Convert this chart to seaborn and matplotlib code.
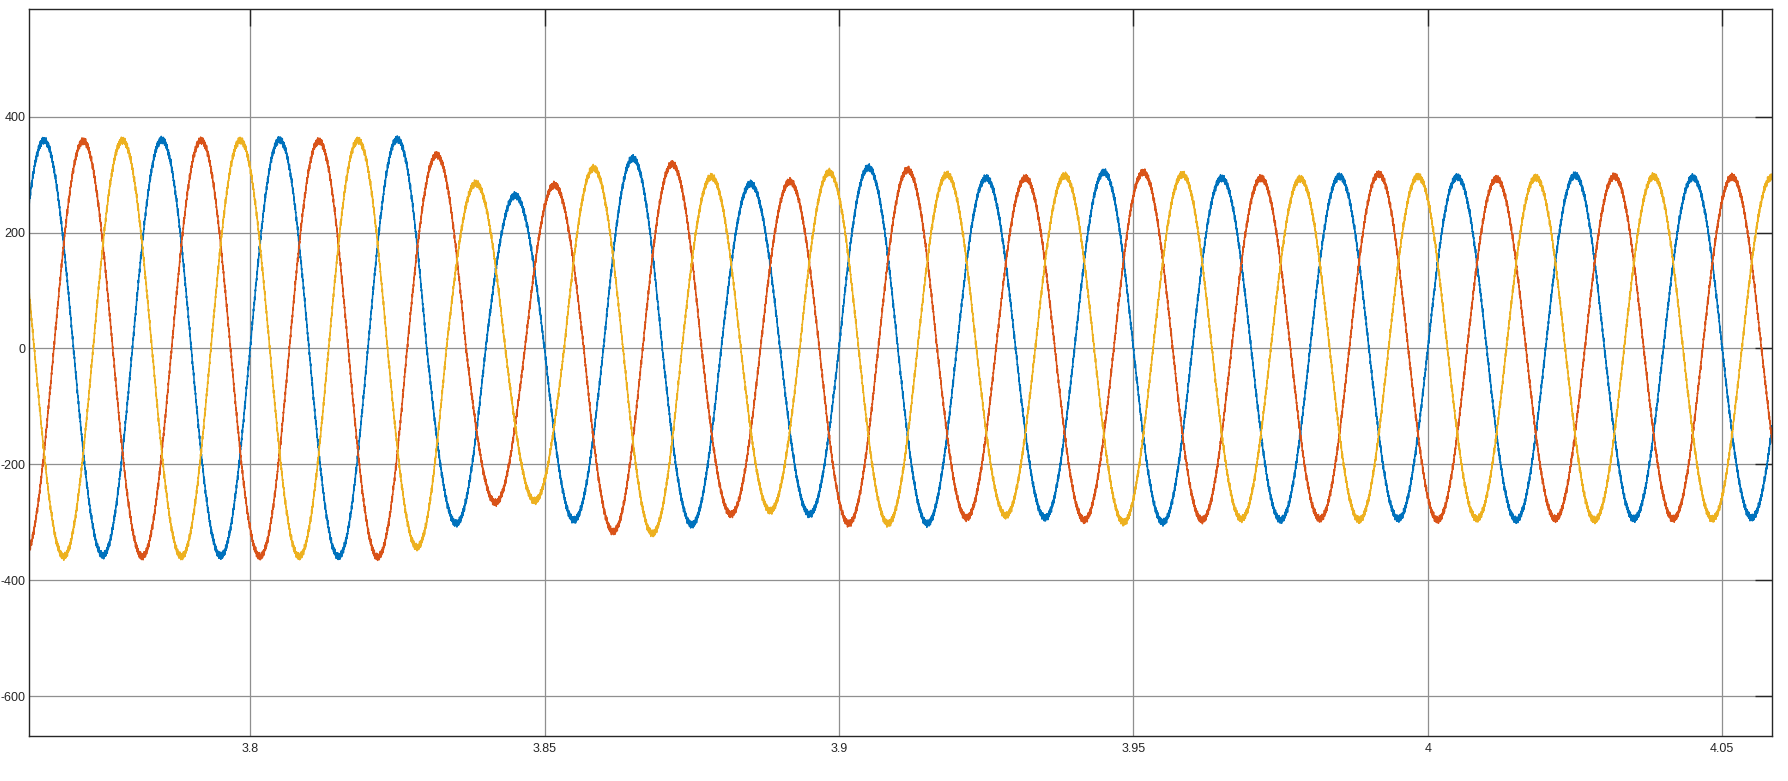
import numpy as np
import pandas as pd
import matplotlib
matplotlib.use("Agg")
import matplotlib.pyplot as plt
import seaborn as sns

# three phase voltages, 50 Hz
freq = 50.0
phase_names = ['Va', 'Vb', 'Vc']
phase_shift = [0, -120, 120]          # deg
phase_colors = ['#0072BD', '#D95319', '#EDB120']

# peak value of every half cycle
# Va half cycles centred at 3.765, 3.775, ..., 4.055
va_peaks = [359, -357, 360, -358, 360, -359, 361, -302, 264, -296,
            328, -304, 284, -286, 312, -302, 294, -292, 304, -300,
            294, -296, 297, -294, 296, -296, 299, -294, 295, -292]
# Vb half cycles centred at 3.7617, 3.7717, ..., 4.0617
vb_peaks = [-359, 358, -359, 359, -359, 358, -360, 334, -266, 282,
            -316, 318, -286, 288, -302, 308, -292, 294, -296, 304,
            -296, 294, -294, 301, -296, 293, -294, 297, -294, 296, -294]
# Vc half cycles centred at 3.7583, 3.7683, ..., 4.0583
vc_peaks = [359, -359, 359, -359, 359, -359, 359, -343, 285, -263,
            311, -319, 296, -280, 304, -302, 300, -288, 298, -300,
            300, -294, 293, -296, 297, -294, 295, -296, 297, -294, 295]

# switching ripple riding on the waveforms
ripple_amp = [3.0, 2.2, 1.6]
ripple_freq = [9973.0, 14887.0, 3119.0]

x_ticks = [3.8, 3.85, 3.9, 3.95, 4.0, 4.05]
y_ticks = [-600, -400, -200, 0, 200, 400]
x_lim = (3.7625, 4.0585)
y_lim = (-669, 585)

t = np.arange(x_lim[0], x_lim[1], 2e-6)

frames = []
for k, (name, shift, peaks) in enumerate(zip(phase_names, phase_shift,
                                             [va_peaks, vb_peaks, vc_peaks])):
    theta = 360.0 * freq * t + shift
    lobe = np.floor(theta / 180.0).astype(int)
    lobe = lobe - lobe[0]
    amp = np.abs(np.array(peaks, dtype=float))[lobe]
    v = amp * np.sin(np.deg2rad(theta))
    for a, f in zip(ripple_amp, ripple_freq):
        v = v + a * np.sin(2 * np.pi * f * t + 1.7 * (k + 1) * (f / 1e4))
    frames.append(pd.DataFrame({'t': t, 'v': v, 'phase': name}))
df = pd.concat(frames, ignore_index=True)

sns.set_style("white")
plt.rcParams['font.family'] = ['Liberation Sans', 'DejaVu Sans']
plt.rcParams['axes.unicode_minus'] = False

fig = plt.figure(figsize=(17.88, 7.81), dpi=100)
ax = fig.add_axes([0.01639, 0.05723, 0.97483, 0.93086])

sns.lineplot(data=df, x='t', y='v', hue='phase', hue_order=phase_names,
             palette=phase_colors, estimator=None, sort=False,
             legend=False, linewidth=1.1, ax=ax)

ax.set_xlim(x_lim)
ax.set_ylim(y_lim)
ax.set_xticks(x_ticks)
ax.set_yticks(y_ticks)
ax.set_xticklabels(['%g' % v for v in x_ticks])
ax.set_yticklabels(['%g' % v for v in y_ticks])
ax.set_xlabel('')
ax.set_ylabel('')

# scope style: grid, inward ticks on all sides
ax.grid(True, color='#8f8f8f', linewidth=0.9)
ax.set_axisbelow(True)
ax.tick_params(direction='in', length=12, width=1.0, color='#262626',
               top=True, right=True, labelsize=9, labelcolor='#262626')
ax.tick_params(axis='x', pad=5)
ax.tick_params(axis='y', pad=2.6)
for s in ax.spines.values():
    s.set_color('#262626')
    s.set_linewidth(1.0)

fig.savefig('out.png', dpi=100)
